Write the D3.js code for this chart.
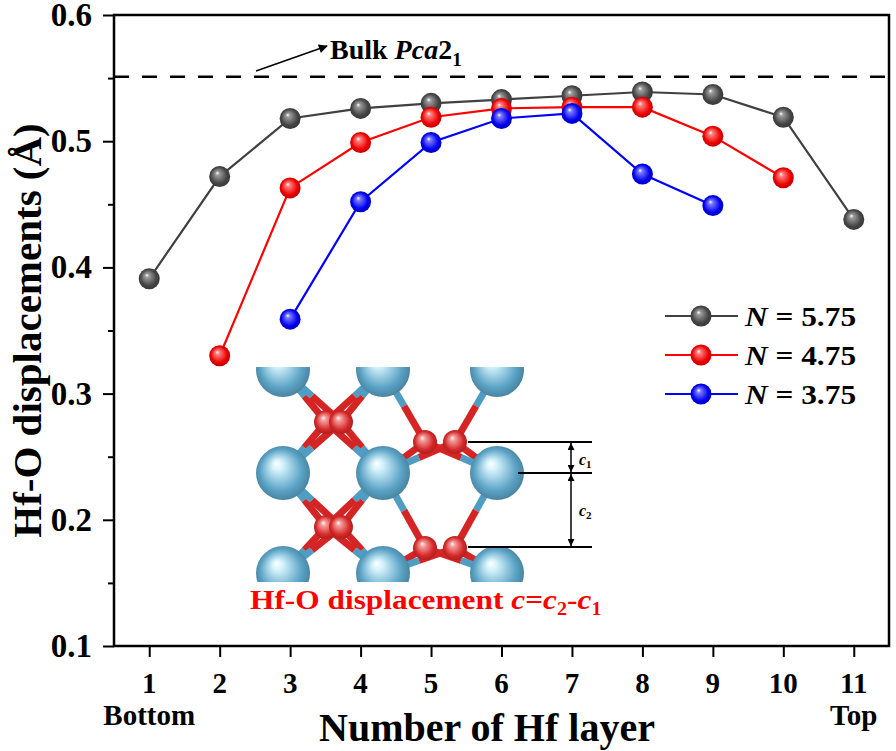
<!DOCTYPE html>
<html>
<head>
<meta charset="utf-8">
<script src="https://cdn.jsdelivr.net/npm/d3@7/dist/d3.min.js"></script>
<style>
  body { margin: 0; background: #fff; }
  svg text { font-family: "Liberation Serif", "Times New Roman", serif; font-weight: bold; }
</style>
</head>
<body>
<svg id="chart" width="896" height="751"></svg>
<script>
// layers on the x axis
var layers = [1, 2, 3, 4, 5, 6, 7, 8, 9, 10, 11];
var yTicks = [0.1, 0.2, 0.3, 0.4, 0.5, 0.6];
var bulkValue = 0.551;

// Hf-O displacement per layer
var layersN575 = [1, 2, 3, 4, 5, 6, 7, 8, 9, 10, 11];
var valuesN575 = [0.391, 0.472, 0.518, 0.526, 0.530, 0.533, 0.536, 0.539, 0.537, 0.519, 0.438];
var layersN475 = [2, 3, 4, 5, 6, 7, 8, 9, 10];
var valuesN475 = [0.330, 0.463, 0.499, 0.519, 0.526, 0.527, 0.527, 0.504, 0.471];
var layersN375 = [3, 4, 5, 6, 7, 8, 9];
var valuesN375 = [0.359, 0.452, 0.499, 0.518, 0.522, 0.474, 0.449];

var seriesNames = ["5.75", "4.75", "3.75"];
var seriesColors = ["#404040", "#ff0000", "#0000ff"];

var svg = d3.select("#chart");
var margin = {left: 114, right: 7, top: 15, bottom: 105};
var width = 896, height = 751;

var x = d3.scaleLinear().domain([0.5, 11.5]).range([margin.left, width - margin.right]);
var y = d3.scaleLinear().domain([0.1, 0.6]).range([height - margin.bottom, margin.top]);

// sphere gradients
var defs = svg.append("defs");
function sphereGrad(id, base, light) {
	var g = defs.append("radialGradient").attr("id", id)
		.attr("cx", "50%").attr("cy", "50%").attr("r", "55%")
		.attr("fx", "38%").attr("fy", "32%");
	g.append("stop").attr("offset", "0%").attr("stop-color", "#ffffff");
	g.append("stop").attr("offset", "18%").attr("stop-color", light);
	g.append("stop").attr("offset", "70%").attr("stop-color", base);
	g.append("stop").attr("offset", "100%").attr("stop-color", d3.rgb(base).darker(0.8));
}
sphereGrad("g0", "#454545", "#9a9a9a");
sphereGrad("g1", "#ee0000", "#ff8080");
sphereGrad("g2", "#0000ee", "#7a7aff");
sphereGrad("gHf", "#5ba3c6", "#d4f2fb");
sphereGrad("gO", "#d62828", "#f5a0a0");

// frame
svg.append("rect")
	.attr("x", x(0.5)).attr("y", y(0.6))
	.attr("width", x(11.5) - x(0.5)).attr("height", y(0.1) - y(0.6))
	.attr("fill", "none").attr("stroke", "#000").attr("stroke-width", 2.5);

// axes
var xAxis = d3.axisBottom(x).tickValues(layers).tickSize(11).tickFormat("");
svg.append("g").attr("transform", "translate(0," + y(0.1) + ")").call(xAxis)
	.call(function(g) { g.select(".domain").remove(); g.selectAll("line").attr("stroke-width", 2); });

var yMinor = d3.axisLeft(y).tickValues(d3.range(0.15, 0.6, 0.1)).tickSize(6).tickFormat("");
svg.append("g").attr("transform", "translate(" + x(0.5) + ",0)").call(yMinor)
	.call(function(g) { g.select(".domain").remove(); g.selectAll("line").attr("stroke-width", 2); });
var yAxis = d3.axisLeft(y).tickValues(yTicks).tickSize(11).tickFormat(d3.format(".1f"));
svg.append("g").attr("transform", "translate(" + x(0.5) + ",0)").call(yAxis)
	.call(function(g) {
		g.select(".domain").remove();
		g.selectAll("line").attr("stroke-width", 2);
		g.selectAll("text").attr("font-size", 33).attr("font-family", "Liberation Serif")
			.attr("font-weight", "bold").attr("fill", "#000").attr("dx", -8);
	});

// x tick labels
svg.append("g").selectAll("text").data(layers).enter().append("text")
	.attr("x", function(d) { return x(d); })
	.attr("y", 693)
	.attr("text-anchor", "middle").attr("font-size", 29)
	.text(function(d) { return d; });

svg.append("text").attr("x", x(1)).attr("y", 725)
	.attr("text-anchor", "middle").attr("font-size", 29).text("Bottom");
svg.append("text").attr("x", x(11)).attr("y", 725)
	.attr("text-anchor", "middle").attr("font-size", 29).text("Top");

svg.append("text").attr("x", 487).attr("y", 741)
	.attr("text-anchor", "middle").attr("font-size", 40).text("Number of Hf layer");

svg.append("text")
	.attr("transform", "translate(41," + ((y(0.1) + y(0.6)) / 2) + ") rotate(-90)")
	.attr("text-anchor", "middle").attr("font-size", 41).text("Hf-O displacements (Å)");

// bulk reference line
svg.append("line")
	.attr("x1", x(0.5)).attr("x2", x(11.5))
	.attr("y1", y(bulkValue)).attr("y2", y(bulkValue))
	.attr("stroke", "#000").attr("stroke-width", 2.5).attr("stroke-dasharray", "15,13");

defs.append("marker").attr("id", "arrow").attr("viewBox", "0 0 10 10")
	.attr("refX", 9).attr("refY", 5).attr("markerWidth", 14).attr("markerHeight", 9)
	.attr("markerUnits", "userSpaceOnUse").attr("orient", "auto")
	.append("path").attr("d", "M0,0 L10,5 L0,10 z").attr("fill", "#000");
svg.append("line")
	.attr("x1", 256).attr("y1", 71)
	.attr("x2", 327).attr("y2", 46)
	.attr("stroke", "#000").attr("stroke-width", 1.5).attr("marker-end", "url(#arrow)");

var bulk = svg.append("text").attr("x", 330).attr("y", 59).attr("font-size", 28);
bulk.append("tspan").text("Bulk ");
bulk.append("tspan").attr("font-style", "italic").text("Pca");
bulk.append("tspan").text("2");
bulk.append("tspan").attr("font-size", 19).attr("dy", 7).text("1");

// inset crystal structure (illustration)
var inset = svg.append("g");
defs.append("clipPath").attr("id", "insetClip").append("rect")
	.attr("x", 250).attr("y", 367).attr("width", 285).attr("height", 215);
var cryst = inset.append("g").attr("clip-path", "url(#insetClip)");
var hf = [[283, 370], [383, 370], [497, 370], [283, 473], [383, 473], [497, 473], [283, 573], [383, 573], [497, 573]];
var ox = [[326, 422], [341, 422], [326, 527], [341, 527], [425, 442], [455, 442], [425, 548], [455, 548]];
var bonds = [
	[0, 0], [1, 1], [3, 0], [4, 1], [0, 1], [1, 0], [3, 1], [4, 0],
	[3, 2], [4, 3], [6, 2], [7, 3], [3, 3], [4, 2], [6, 3], [7, 2],
	[1, 4], [2, 5], [4, 4], [5, 5], [4, 5], [5, 4],
	[4, 6], [5, 7], [7, 6], [8, 7], [7, 7], [8, 6]
];
bonds.forEach(function(b) {
	var h = hf[b[0]], o = ox[b[1]];
	var mx = (h[0] + o[0]) / 2, my = (h[1] + o[1]) / 2;
	cryst.append("line").attr("x1", h[0]).attr("y1", h[1]).attr("x2", mx).attr("y2", my)
		.attr("stroke", "#4f9dc3").attr("stroke-width", 7);
	cryst.append("line").attr("x1", mx).attr("y1", my).attr("x2", o[0]).attr("y2", o[1])
		.attr("stroke", "#d42424").attr("stroke-width", 7);
});
cryst.selectAll("circle.hf").data(hf).enter().append("circle")
	.attr("cx", function(d) { return d[0]; }).attr("cy", function(d) { return d[1]; })
	.attr("r", 27).attr("fill", "url(#gHf)");
cryst.selectAll("circle.o").data(ox).enter().append("circle")
	.attr("cx", function(d) { return d[0]; }).attr("cy", function(d) { return d[1]; })
	.attr("r", 12).attr("fill", "url(#gO)");

// dimension lines c1, c2
[[468, 442], [518, 473], [468, 547]].forEach(function(l) {
	inset.append("line").attr("x1", l[0]).attr("x2", 592).attr("y1", l[1]).attr("y2", l[1])
		.attr("stroke", "#000").attr("stroke-width", 1.8);
});
defs.append("marker").attr("id", "tip").attr("viewBox", "0 0 10 10")
	.attr("refX", 10).attr("refY", 5).attr("markerWidth", 7).attr("markerHeight", 7)
	.attr("markerUnits", "userSpaceOnUse").attr("orient", "auto-start-reverse")
	.append("path").attr("d", "M0,0 L10,5 L0,10 z").attr("fill", "#000");
[[442, 473], [473, 547]].forEach(function(s) {
	inset.append("line").attr("x1", 571).attr("x2", 571).attr("y1", s[0] + 1).attr("y2", s[1] - 1)
		.attr("stroke", "#000").attr("stroke-width", 1.5)
		.attr("marker-start", "url(#tip)").attr("marker-end", "url(#tip)");
});
[["1", 465], ["2", 516]].forEach(function(c) {
	var t = inset.append("text").attr("x", 579).attr("y", c[1]).attr("font-size", 16).attr("font-weight", "normal");
	t.append("tspan").attr("font-style", "italic").text("c");
	t.append("tspan").attr("font-size", 11).attr("dy", 3).text(c[0]);
});

// caption of the inset, a little wider than the font
var cap = svg.append("text").attr("transform", "translate(250,609) scale(1.12,1)")
	.attr("font-size", 28).attr("fill", "#ff0000");
cap.append("tspan").text("Hf-O displacement ");
cap.append("tspan").attr("font-style", "italic").text("c");
cap.append("tspan").text("=");
cap.append("tspan").attr("font-style", "italic").text("c");
cap.append("tspan").attr("font-size", 18).attr("dy", 6).text("2");
cap.append("tspan").attr("dy", -6).text("-");
cap.append("tspan").attr("font-style", "italic").text("c");
cap.append("tspan").attr("font-size", 18).attr("dy", 6).text("1");

// series
var series = [
	{layers: layersN575, values: valuesN575},
	{layers: layersN475, values: valuesN475},
	{layers: layersN375, values: valuesN375}
];
var line = d3.line().x(function(d) { return x(d[0]); }).y(function(d) { return y(d[1]); });
series.forEach(function(s, i) {
	var pts = d3.zip(s.layers, s.values);
	svg.append("path").datum(pts).attr("d", line)
		.attr("fill", "none").attr("stroke", seriesColors[i]).attr("stroke-width", 2.2);
});
series.forEach(function(s, i) {
	var pts = d3.zip(s.layers, s.values);
	svg.append("g").selectAll("circle").data(pts).enter().append("circle")
		.attr("cx", function(d) { return x(d[0]); })
		.attr("cy", function(d) { return y(d[1]); })
		.attr("r", 10.5).attr("fill", "url(#g" + i + ")");
});

// legend
var legend = svg.append("g").selectAll("g").data(seriesNames).enter().append("g")
	.attr("transform", function(d, i) { return "translate(0," + (316 + i * 39) + ")"; });
legend.append("line").attr("x1", 665).attr("x2", 738).attr("y1", 0).attr("y2", 0)
	.attr("stroke", function(d, i) { return seriesColors[i]; }).attr("stroke-width", 2.2);
legend.append("circle").attr("cx", 701).attr("cy", 0).attr("r", 10.5)
	.attr("fill", function(d, i) { return "url(#g" + i + ")"; });
var lt = legend.append("text").attr("transform", "translate(745,10) scale(1.12,1)").attr("font-size", 28);
lt.append("tspan").attr("font-style", "italic").text("N");
lt.append("tspan").text(function(d) { return " = " + d; });
</script>
</body>
</html>
